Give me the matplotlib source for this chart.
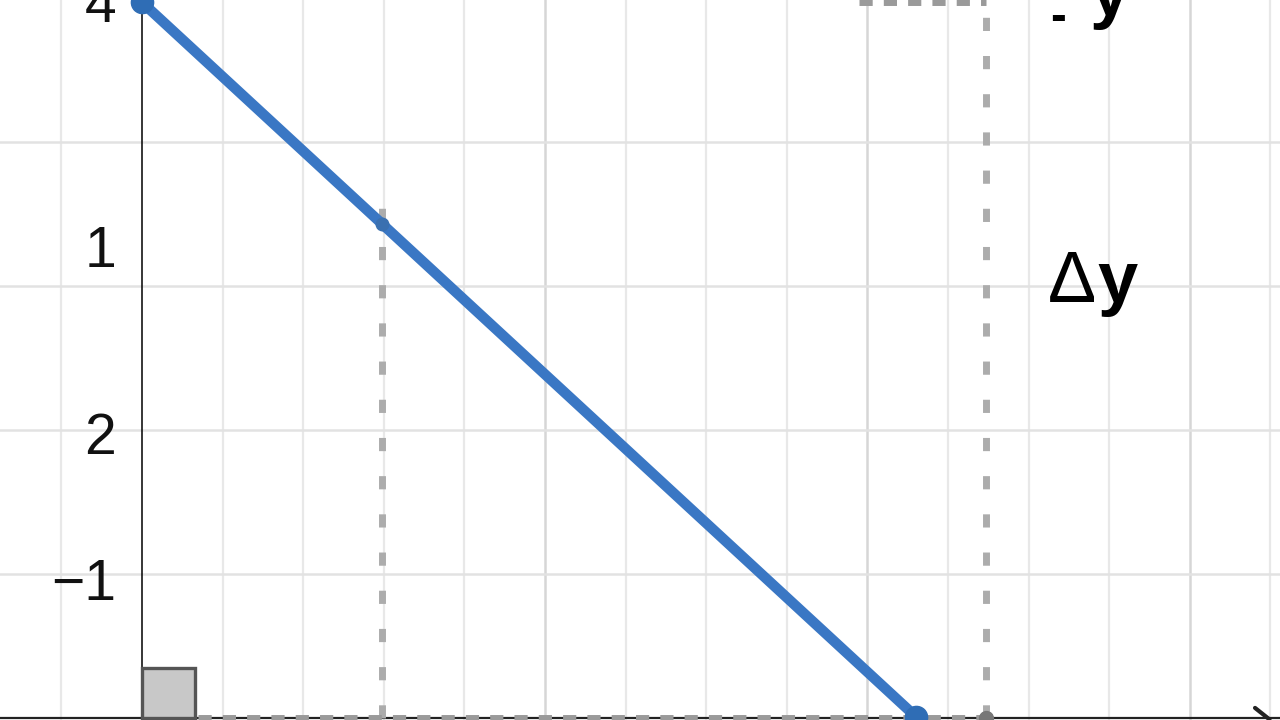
import matplotlib.pyplot as plt
from matplotlib.patches import Rectangle

plt.rcParams['font.family'] = ['Liberation Sans', 'DejaVu Sans']

# blue segment
seg_x = [0, 9.6]
seg_y = [4.97, 0.01]

# point on the segment where the first dashed line meets it
mid_pt = (2.98, 3.43)

# dashed guide lines (x, y bottom, y top)
guide_x = [2.98, 10.47]
guide_bottom = [0, 0]
guide_top = [3.65, 5.1]

# dashed horizontal guides (y, x start, x end)
hguide_y = [0.0, 4.97]
hguide_x0 = [0.7, 8.9]
hguide_x1 = [10.47, 10.47]

# the y tick labels as they show in the picture
ytick_labels = ['4', '1', '2', '\u22121']
ytick_pos = [4.83, 3.13, 1.83, 0.82]

minor_x = [-1, 1, 2, 3, 4, 6, 7, 8, 10, 11, 12, 14]
major_x = [5, 9, 13]
grid_y = [1, 2, 3, 4]

marker_size = (0.66, 0.35)

fig = plt.figure(figsize=(12.8, 7.2), dpi=100)
ax = fig.add_axes([0, 0, 1, 1])
ax.set_xlim(-1.762, 14.12)
ax.set_ylim(-0.014, 4.986)
ax.axis('off')

# grid
for gx in minor_x:
    ax.axvline(gx, color='#e8e8e8', lw=1.6, zorder=0)
for gx in major_x:
    ax.axvline(gx, color='#d6d6d6', lw=1.8, zorder=0)
for gy in grid_y:
    ax.axhline(gy, color='#e2e2e2', lw=1.8, zorder=0)

# axes
ax.axvline(0, color='black', lw=1.1, zorder=2)
ax.axhline(0, color='#222222', lw=1.6, zorder=2)
ax.plot([13.81, 13.99], [0.07, -0.01], color='#222222', lw=3, solid_capstyle='round', zorder=2)

# dashed guides
for gx, b, t in zip(guide_x, guide_bottom, guide_top):
    ax.plot([gx, gx], [b, t], color='#acacac', lw=5, dashes=(1.9, 3.6),
            dash_capstyle='butt', zorder=3)
for hy, x0, x1 in zip(hguide_y, hguide_x0, hguide_x1):
    ax.plot([x0, x1], [hy, hy], color='#9a9a9a', lw=5, dashes=(1.9, 1.6),
            dash_capstyle='butt', zorder=3)

# right angle marker
ax.add_patch(Rectangle((0, 0), marker_size[0], marker_size[1], facecolor='#c8c8c8',
                       edgecolor='#555555', lw=2.4, zorder=4))

# segment and points
ax.plot(seg_x, seg_y, color='#3a77c4', lw=7.5, solid_capstyle='round', zorder=5)
ax.plot(seg_x, seg_y, 'o', color='#2f6db5', ms=16, zorder=6)
ax.plot([mid_pt[0]], [mid_pt[1]], 'o', color='#3a70b0', ms=9, zorder=6)
ax.plot([guide_x[1]], [0], 'o', color='#777777', ms=10, zorder=6)

# tick labels
for lab, yp in zip(ytick_labels, ytick_pos):
    ax.text(-0.32, yp, lab, fontsize=41, ha='right', va='baseline', color='#111111', zorder=7)

# labels
ax.text(11.24, 2.89, '\u0394', fontsize=52, ha='left', va='baseline', color='black', zorder=7)
ax.text(11.85, 2.89, 'y', fontsize=52, fontweight='bold', ha='left', va='baseline',
        color='black', zorder=7)
ax.text(11.76, 4.88, 'y', fontsize=52, fontweight='bold', ha='left', va='baseline',
        color='black', zorder=7)
ax.text(11.27, 4.86, '-', fontsize=34, fontweight='bold', ha='left', va='center',
        color='black', zorder=7)

fig.savefig('out.png', dpi=100)
